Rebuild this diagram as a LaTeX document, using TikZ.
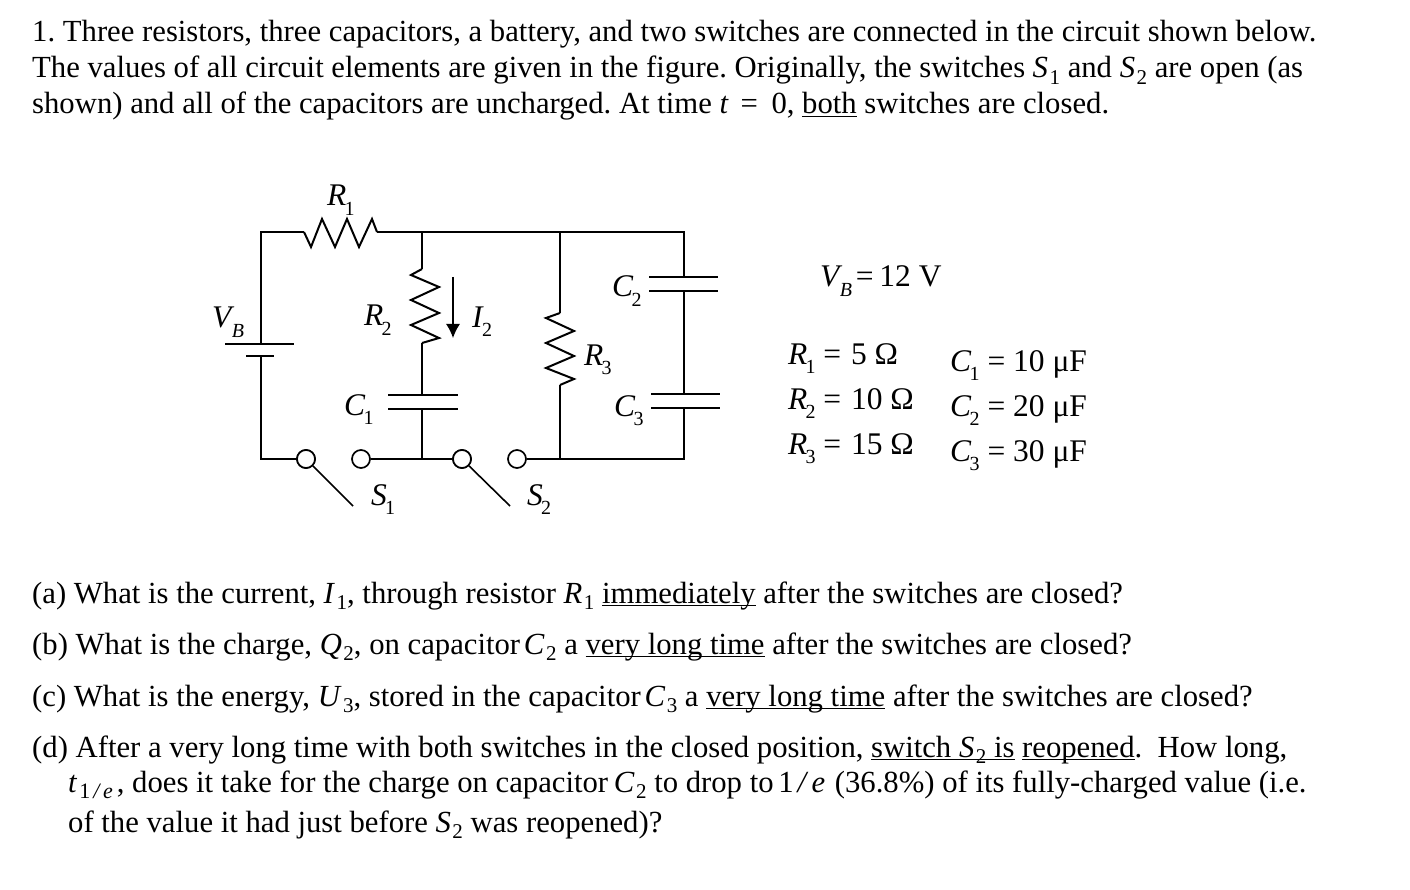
\documentclass[tikz,border=0pt]{standalone}
\usepackage{fontspec}
\setmainfont{Liberation Serif}
\usetikzlibrary{arrows.meta}
\newcommand{\tx}{\fontsize{30.7}{34}\selectfont\frenchspacing}
\newcommand{\lb}{\fontsize{31.5}{34}\selectfont}
\newcommand{\msub}[2]{\textit{#1}\kern1.5pt\raisebox{-0.2em}{\fontsize{21}{22}\selectfont #2}}
\newcommand{\lsub}[2]{\textit{#1}\kern-0.06em\raisebox{-0.3em}{\fontsize{20}{22}\selectfont #2}}
\newcommand{\ulin}[1]{\setbox0=\hbox{#1}\rlap{\rule[-3pt]{\wd0}{1.4pt}}\box0\relax}
\tikzset{
  wire/.style={line width=2pt,line join=miter},
  plate/.style={line width=2pt},
  blade/.style={line width=1.6pt},
  term/.style={circle,draw,line width=1.7pt,minimum size=18pt,inner sep=0pt,fill=white},
  tline/.style={anchor=base west,inner sep=0pt,font=\tx},
  clabel/.style={anchor=base west,inner sep=0pt,font=\lb},
  currarrow/.style={line width=1.3pt,-{Latex[length=14pt,width=14pt]}}
}
\begin{document}
\begin{tikzpicture}[x=1pt,y=-1pt]
\useasboundingbox (0,0) rectangle (1410,890);
% text
\node[tline] (l1) at (32,42) {1. Three resistors, three capacitors, a battery, and two switches are connected in the circuit shown below.};
\node[tline] (l2) at (32,78) {The values of all circuit elements are given in the figure. Originally, the switches \msub{S}{1} and \msub{S}{2} are open (as};
\node[tline] (l3) at (32,114) {shown) and all of the capacitors are uncharged. At time \textit{t}\kern12pt=\kern13.5pt 0, \ulin{both} switches are closed.};
\node[tline] (qa) at (32,603) {(a) What is the current, \msub{I}{1}, through resistor \msub{R}{1} \ulin{immediately} after the switches are closed?};
\node[tline] (qb) at (32,654) {(b) What is the charge, \msub{Q}{2}, on capacitor \kern-4pt\msub{C}{2} a \ulin{very long time} after the switches are closed?};
\node[tline] (qc) at (32,706) {(c) What is the energy, \msub{U}{3}, stored in the capacitor \kern-4pt\msub{C}{3} a \ulin{very long time} after the switches are closed?};
\node[tline] (qd) at (32,757) {(d) After a very long time with both switches in the closed position, \ulin{switch \msub{S}{2} is} \ulin{reopened}.\ \ How long,};
\node[tline] (qe) at (68,792) {\textit{t}\kern2pt\raisebox{-0.2em}{\fontsize{22}{22}\selectfont 1\kern3pt\textit{/}\kern2pt\textit{e}}\kern4pt, does it take for the charge on capacitor \kern-2pt\msub{C}{2} to drop to \kern-3pt 1\kern4pt\textit{/}\kern3pt\textit{e}\kern2pt\ (36.8\%) of its fully-charged value (i.e.};
\node[tline] (qf) at (68,832) {of the value it had just before \msub{S}{2} was reopened)?};
% junction coordinates
\coordinate (tl) at (261,232);
\coordinate (r1a) at (304,232);
\coordinate (r1b) at (377,232);
\coordinate (j1) at (422,232);
\coordinate (j2) at (560,232);
\coordinate (tr) at (684,232);
\coordinate (r2a) at (422,269);
\coordinate (r2b) at (422,343);
\coordinate (c1a) at (422,395);
\coordinate (c1b) at (422,409);
\coordinate (j3) at (422,459);
\coordinate (r3a) at (560,313);
\coordinate (r3b) at (560,385);
\coordinate (j4) at (560,459);
\coordinate (br) at (684,459);
\coordinate (c2a) at (684,277);
\coordinate (c2b) at (684,291);
\coordinate (c3a) at (684,394);
\coordinate (c3b) at (684,408);
\coordinate (bat1) at (261,344);
\coordinate (bat2) at (261,356);
\coordinate (bl) at (261,459);
\node[term] (s1a) at (306,459) {};
\node[term] (s1b) at (361,459) {};
\node[term] (s2a) at (462,459) {};
\node[term] (s2b) at (517,459) {};
\coordinate (s1e) at (353,506);
\coordinate (s2e) at (510,506);
% wires
\draw[wire] (r1a) -- (tl) -- (bat1);
\draw[wire] (r1b) -- (j1) -- (j2) -- (tr) -- (c2a);
\draw[wire] (j1) -- (r2a);
\draw[wire] (j2) -- (r3a);
\draw[wire] (r2b) -- (c1a);
\draw[wire] (c1b) -- (j3);
\draw[wire] (r3b) -- (j4);
\draw[wire] (c2b) -- (c3a);
\draw[wire] (c3b) -- (br) -- (j4) -- (s2b);
\draw[wire] (bat2) -- (bl) -- (s1a);
\draw[wire] (s1b) -- (j3) -- (s2a);
% resistors
\draw[wire] (r1a) -- (311,247) -- (322,219) -- (335,247) -- (347,219) -- (359,247) -- (372,219) -- (r1b);
\draw[wire] (r2a) -- (411,275) -- (439,287) -- (411,300) -- (439,313) -- (411,325) -- (439,338) -- (r2b);
\draw[wire] (r3a) -- (546,318) -- (574,331) -- (546,343) -- (574,356) -- (546,368) -- (574,379) -- (r3b);
% plates
\draw[plate] (225,344) -- (294,344);
\draw[plate] (246,356) -- (274,356);
\draw[plate] (388,395) -- (458,395);
\draw[plate] (388,409) -- (458,409);
\draw[plate] (649,277) -- (718,277);
\draw[plate] (649,291) -- (718,291);
\draw[plate] (651,394) -- (720,394);
\draw[plate] (651,408) -- (720,408);
% switch blades
\draw[blade] (s1a) -- (s1e);
\draw[blade] (s2a) -- (s2e);
\node[term] at (s1a) {};
\node[term] at (s2a) {};
% current arrow
\coordinate (ia) at (453,277);
\coordinate (ib) at (453,338);
\draw[currarrow] (ia) -- (ib);
% labels
\node[clabel] (lr1) at (327,206) {\lsub{R}{1}};
\node[clabel] (lvb) at (212,328) {\textit{V}\kern-0.08em\raisebox{-0.3em}{\fontsize{20}{22}\selectfont\textit{B}}};
\node[clabel] (lr2) at (364,326) {\lsub{R}{2}};
\node[clabel] (li2) at (472,327) {\lsub{I}{2}};
\node[clabel] (lr3) at (584,365) {\lsub{R}{3}};
\node[clabel] (lc1) at (344,415) {\lsub{C}{1}};
\node[clabel] (lc2) at (612,297) {\lsub{C}{2}};
\node[clabel] (lc3) at (614,416) {\lsub{C}{3}};
\node[clabel] (ls1) at (371,505) {\lsub{S}{1}};
\node[clabel] (ls2) at (527,505) {\lsub{S}{2}};
\node[clabel] (vv) at (820,287) {\textit{V}\kern-0.08em\raisebox{-0.3em}{\fontsize{20}{22}\selectfont\textit{B}}\kern0.05em\kern2pt=\kern-2pt\ 12 V};
\node[clabel] (vr1) at (788,364) {\lsub{R}{1} = \kern2pt5 Ω};
\node[clabel] (vr2) at (788,409) {\lsub{R}{2} = \kern2pt10 Ω};
\node[clabel] (vr3) at (788,454) {\lsub{R}{3} = \kern2pt15 Ω};
\node[clabel] (vc1) at (950,371) {\lsub{C}{1} = 10 μF};
\node[clabel] (vc2) at (950,416) {\lsub{C}{2} = 20 μF};
\node[clabel] (vc3) at (950,461) {\lsub{C}{3} = 30 μF};
\end{tikzpicture}
\end{document}
